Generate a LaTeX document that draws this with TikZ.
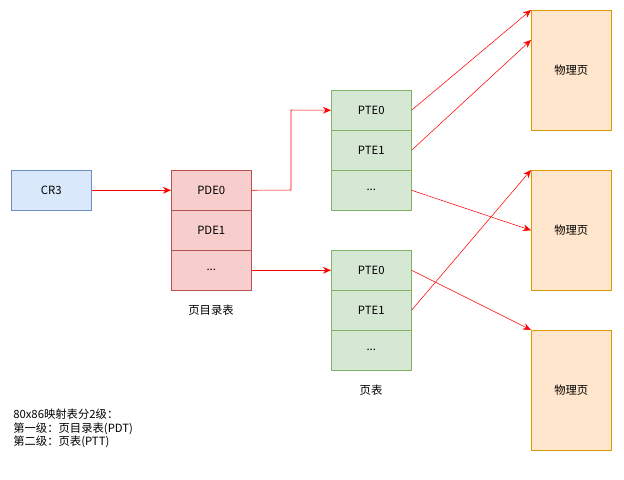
\documentclass[tikz,border=0pt]{standalone}
\usepackage{fontspec}
\setmainfont{Noto Sans CJK SC}
\usetikzlibrary{arrows.meta}
\definecolor{bF}{HTML}{DAE8FC}\definecolor{bS}{HTML}{6C8EBF}
\definecolor{rF}{HTML}{F8CECC}\definecolor{rS}{HTML}{B85450}
\definecolor{gF}{HTML}{D5E8D4}\definecolor{gS}{HTML}{82B366}
\definecolor{oF}{HTML}{FFE6CC}\definecolor{oS}{HTML}{D79B00}
\begin{document}
\begin{tikzpicture}[x=0.75pt,y=-0.75pt,
 cell/.style={draw,minimum width=60pt,minimum height=30pt,inner sep=0pt,font=\fontsize{8.5pt}{10pt}\selectfont,anchor=north west},
 blue/.style={cell,fill=bF,draw=bS},
 red/.style={cell,fill=rF,draw=rS},
 green/.style={cell,fill=gF,draw=gS},
 page/.style={cell,fill=oF,draw=oS,minimum height=90pt},
 lbl/.style={font=\fontsize{8.5pt}{10pt}\selectfont},
 arr/.style={draw=red,-{Stealth[length=6pt,width=5pt]}}]
\useasboundingbox (0,0) rectangle (624,479);
\node[blue] (cr3) at (11,170) {CR3};
\node[red] (pde0) at (171,170) {PDE0};
\node[red] (pde1) at (171,210) {PDE1};
\node[red] (pde2) at (171,250) {...};
\node[lbl] (l1) at (211,310) {页目录表};
\node[green] (a0) at (331,90) {PTE0};
\node[green] (a1) at (331,130) {PTE1};
\node[green] (a2) at (331,170) {...};
\node[green] (b0) at (331,250) {PTE0};
\node[green] (b1) at (331,290) {PTE1};
\node[green] (b2) at (331,330) {...};
\node[lbl] (l2) at (371,390) {页表};
\node[page] (p1) at (531,10) {物理页};
\node[page] (p2) at (531,170) {物理页};
\node[page] (p3) at (531,330) {物理页};
\node[lbl,anchor=north west,align=left,inner sep=0pt] (note) at (13,409) {80x86映射表分2级：\\第一级：页目录表(PDT)\\第二级：页表(PTT)};
\draw[arr] (cr3.east) -- (pde0.west);
\draw[arr] (pde0.east) -- (291,190) -- (291,110) -- (a0.west);
\draw[arr] (pde2.east) -- (b0.west);
\draw[arr] (a0.east) -- (p1.north west);
\draw[arr] (a1.east) -- ([yshift=-30*0.75pt]p1.north west);
\draw[arr] (a2.east) -- (p2.west);
\draw[arr] (b0.east) -- (p3.north west);
\draw[arr] (b1.east) -- (p2.north west);
\end{tikzpicture}
\end{document}
